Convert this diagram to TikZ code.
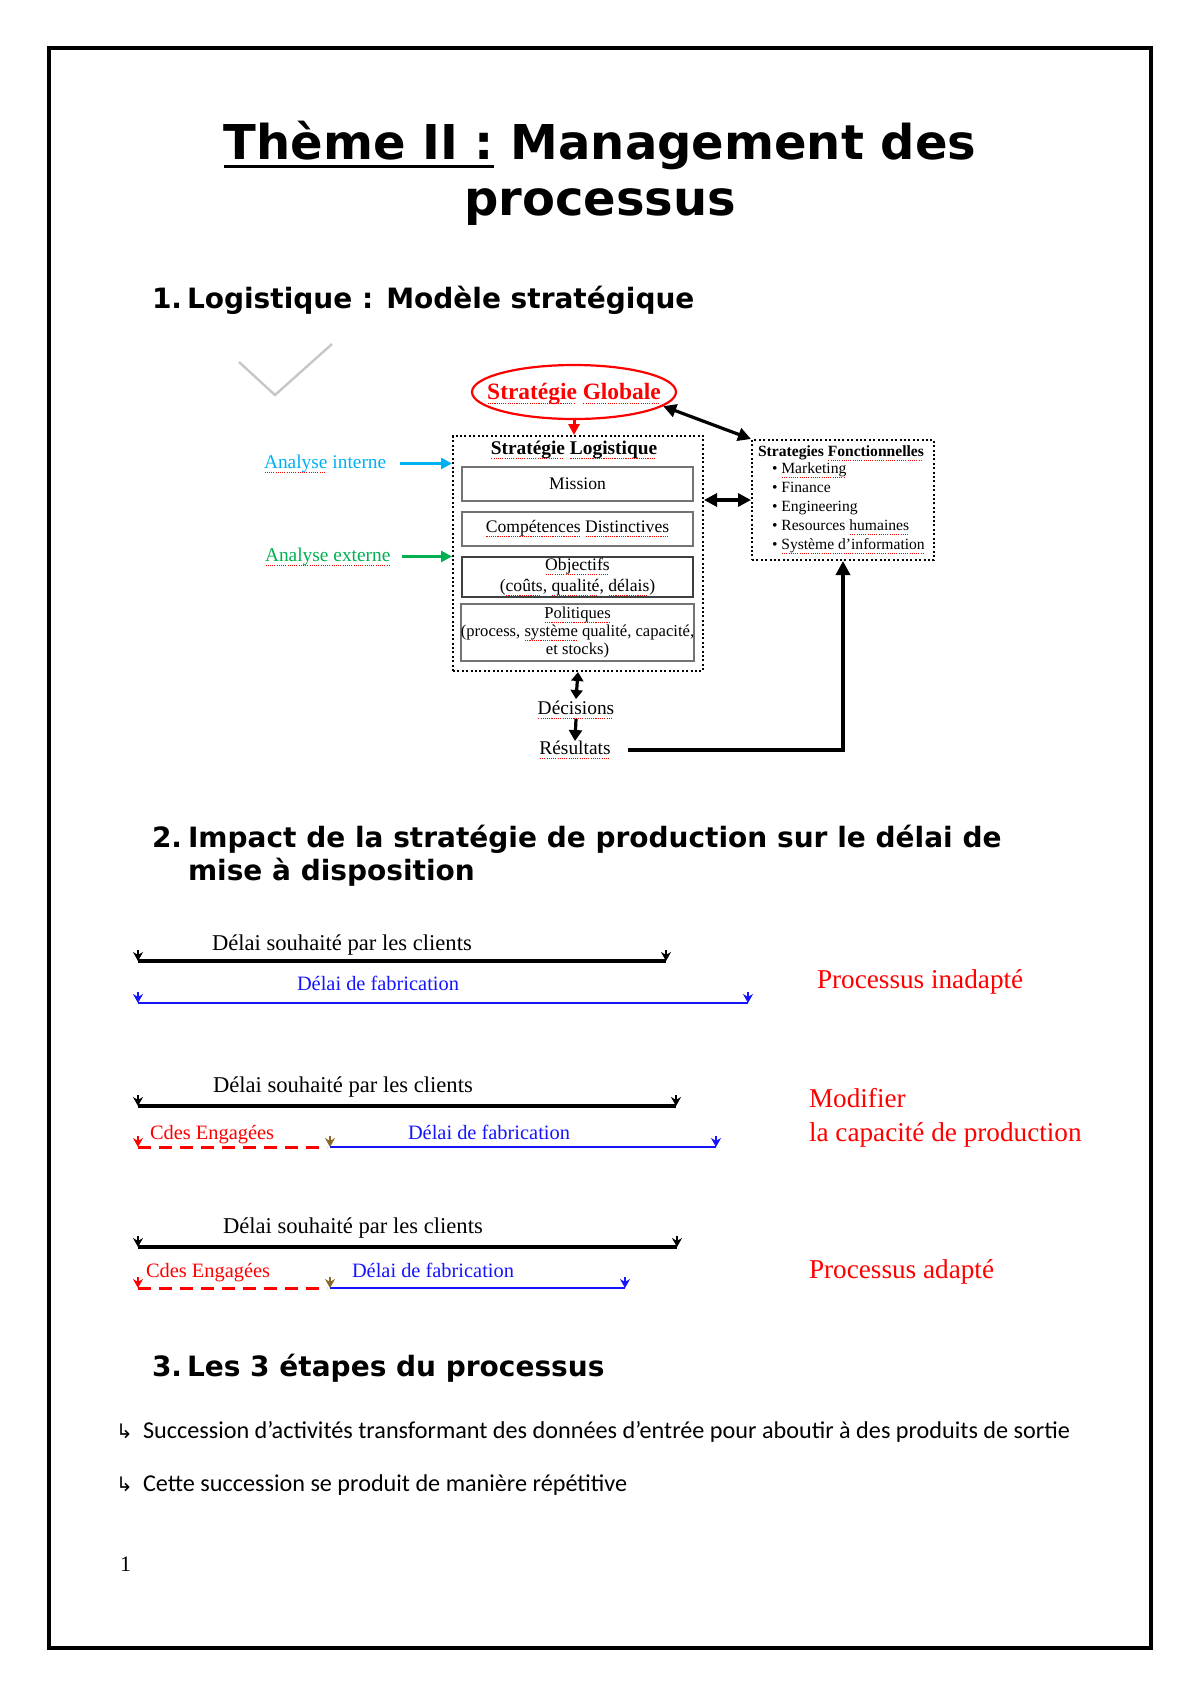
\documentclass[tikz,border=0pt]{standalone}
\usepackage{fontspec}
\setmainfont{Liberation Serif}
\newfontfamily\headfont{DejaVu Sans}
\newfontfamily\bodyfont{Carlito}
\newfontfamily\symfont{DejaVu Sans}
\usetikzlibrary{shapes.geometric,arrows.meta}
\definecolor{tred}{RGB}{255,0,0}
\definecolor{tblue}{RGB}{20,20,255}
\definecolor{tcyan}{RGB}{0,176,240}
\definecolor{tgreen}{RGB}{0,176,80}
\definecolor{tbrown}{RGB}{140,105,40}
\newcommand{\fsz}[2]{\fontsize{#1}{#2}\selectfont}
\newcommand{\sqw}[1]{{\setbox0\hbox{#1}\rlap{\raisebox{-2.2pt}{\textcolor{tred}{\hbox to \wd0{\leaders\hbox to 1.1pt{\hss\rule{0.55pt}{0.45pt}\hss}\hfill}}}}\box0}}
\begin{document}
\begin{tikzpicture}[x=0.5pt,y=-0.5pt,
  txt/.style={inner sep=0pt, outer sep=0pt},
  head/.style={txt, anchor=base west, font=\headfont\bfseries\fsz{14}{17}},
  body/.style={txt, anchor=base west, font=\bodyfont\fsz{12.1}{14}},
  dbl/.style={{Triangle[length=6.5pt,width=6.5pt]}-{Triangle[length=6.5pt,width=6.5pt]}, line width=1.6pt},
  sdbl/.style={{Triangle[length=4.5pt,width=6pt]}-{Triangle[length=4.5pt,width=6pt]}, line width=1.6pt},
  sarrow/.style={-{Triangle[length=5.5pt,width=5.5pt]}, line width=1.5pt},
  dotbox/.style={draw, line width=1pt, dash pattern=on 1pt off 1.2pt},
  ibox/.style={draw=black!55, line width=0.7pt, minimum width=115.5pt, inner sep=0pt, align=center, font=\fsz{8.8}{10.2}},
  tickmark/.style={line width=0.9pt, -{Stealth[length=4.5pt,width=5pt]}},
  tl/.style={txt, anchor=base west},
  blk/.style={line width=1.6pt},
  blu/.style={line width=1.4pt, tblue},
  reddash/.style={line width=1.5pt, tred, dash pattern=on 6.5pt off 4pt},
  lab/.style={txt, anchor=base west, text=tred, font=\fsz{13.6}{17}}
]
\useasboundingbox (0,0) rectangle (1200,1698);
\draw[line width=1.6pt] (49,48) rectangle (1151,1648);

% Title
\node[txt, anchor=base, font=\headfont\bfseries\fsz{24}{28}] (title1) at (600,159)
  {{\setbox0\hbox{Thème II :}\rlap{\rule[-4.5pt]{\wd0}{1.5pt}}\box0} Management des};
\node[txt, anchor=base, font=\headfont\bfseries\fsz{24}{28}] (title2) at (600,215) {processus};

% Section 1
\node[head] (n1) at (152,308) {1.};
\node[head] (h1) at (187,308) {Logistique : Modèle stratégique};

\draw[black!22, line width=1.2pt] (239,362) -- (275,395) -- (332,344);

\node[draw=tred, line width=1.1pt, ellipse, minimum width=102pt, minimum height=27pt, inner sep=0pt] (sg) at (574,392) {};
\node[txt, text=tred, font=\bfseries\fsz{11.7}{14}] (sgt) at (574,394) {\sqw{Stratégie} \sqw{Globale}};

\node[dotbox, minimum width=125pt, minimum height=117.5pt, inner sep=0pt] (sl) at (578,553.5) {};
\node[txt, font=\bfseries\fsz{9.7}{11}] (slt) at (574,450) {\sqw{Stratégie} \sqw{Logistique}};
\node[ibox, minimum height=17pt] (mis) at (577.5,484) {Mission};
\node[ibox, minimum height=17pt] (comp) at (577.5,529) {\sqw{Compétences} \sqw{Distinctives}};
\node[ibox, minimum height=20pt, draw=black!75, line width=0.9pt] (obj) at (577.5,577) {\sqw{Objectifs}\\(\sqw{coûts}, \sqw{qualité}, \sqw{délais})};
\node[ibox, minimum height=28.5pt, font=\fsz{8.3}{9.2}] (pol) at (577.5,632.5) {\sqw{Politiques}\\(process, \sqw{système} qualité, capacité,\\et stocks)};

\node[txt, text=tcyan, font=\fsz{9.7}{11}, anchor=base west] (ai) at (264,468) {\sqw{Analyse} interne};
\node[txt, text=tgreen, font=\fsz{9.7}{11}, anchor=base west] (ae) at (265,561) {\sqw{Analyse externe}};
\draw[sarrow, tcyan] ([xshift=7pt]ai.east) -- (ai.east -| sl.west);
\draw[sarrow, tgreen] ([xshift=5.5pt]ae.east) -- (ae.east -| sl.west);

\node[dotbox, minimum width=91pt, minimum height=60pt, inner sep=0pt] (sf) at (843,500) {};
\node[txt, font=\bfseries\fsz{7.8}{9}] (sft) at (841,453) {Strategies \sqw{Fonctionnelles}};
\node[txt, anchor=north west, align=left, font=\fsz{7.8}{9.4}] (sfl) at (772,463)
  {• \sqw{Marketing}\\• Finance\\• Engineering\\• Resources \sqw{humaines}\\• \sqw{Système d’information}};

\draw[sarrow, tred] (sg.south) -- (sg.south |- sl.north);
\draw[dbl] (sg.-9) -- (sf.north west);
\draw[dbl] (sl.east |- sf.west) -- (sf.west);

\node[txt, font=\fsz{9.7}{11}] (dec) at (576,710) {\sqw{Décisions}};
\node[txt, font=\fsz{9.7}{11}] (res) at (575,750) {\sqw{Résultats}};
\draw[sdbl] (sl.south) -- ([yshift=1pt]dec.north);
\draw[-{Triangle[length=5.5pt,width=6.5pt]}, line width=1.6pt] (dec.south) -- (res.north);
\draw[line width=2pt, -{Triangle[length=7pt,width=7pt]}] ([xshift=8.5pt]res.east) -- (res.east -| sf.south) -- (sf.south);

% Section 2
\node[head] (n2) at (152,847) {2.};
\node[head] (h2a) at (188,847) {Impact de la stratégie de production sur le délai de};
\node[head] (h2b) at (188,880) {mise à disposition};

% Row 1
\coordinate (a1) at (138,961); \coordinate (b1) at (666,961);
\coordinate (c1) at (138,1003); \coordinate (d1) at (748,1003);
\draw[blk] (a1) -- (b1);
\draw[tickmark] ([yshift=5.5pt]a1) -- (a1);
\draw[tickmark] ([yshift=5.5pt]b1) -- (b1);
\draw[blu] (c1) -- (d1);
\draw[tickmark, tblue] ([yshift=5.5pt]c1) -- (c1);
\draw[tickmark, tblue] ([yshift=5.5pt]d1) -- (d1);
\node[tl, font=\fsz{11.3}{13}] (t1) at (212,950) {Délai souhaité par les clients};
\node[tl, text=tblue, font=\fsz{10.2}{12}] (f1) at (297,990) {Délai de fabrication};
\node[lab] (l1) at (817,988) {Processus inadapté};

% Row 2
\coordinate (a2) at (138,1106); \coordinate (b2) at (676,1106);
\coordinate (c2) at (138,1147); \coordinate (m2) at (330,1147); \coordinate (d2) at (716,1147);
\draw[blk] (a2) -- (b2);
\draw[tickmark] ([yshift=5.5pt]a2) -- (a2);
\draw[tickmark] ([yshift=5.5pt]b2) -- (b2);
\draw[reddash] (c2) -- ([xshift=-1.5pt]m2);
\draw[blu] (m2) -- (d2);
\draw[tickmark, tred] ([yshift=5.5pt]c2) -- (c2);
\draw[tickmark, tbrown] ([yshift=5.5pt]m2) -- (m2);
\draw[tickmark, tblue] ([yshift=5.5pt]d2) -- (d2);
\node[tl, font=\fsz{11.3}{13}] (t2) at (213,1092) {Délai souhaité par les clients};
\node[tl, text=tred, font=\fsz{10.2}{12}] (e2) at (150,1139) {Cdes Engagées};
\node[tl, text=tblue, font=\fsz{10.2}{12}] (f2) at (408,1139) {Délai de fabrication};
\node[lab] (l2a) at (809,1107) {Modifier};
\node[lab] (l2b) at (809,1141) {la capacité de production};

% Row 3
\coordinate (a3) at (138,1247); \coordinate (b3) at (677,1247);
\coordinate (c3) at (138,1288); \coordinate (m3) at (330,1288); \coordinate (d3) at (625,1288);
\draw[blk] (a3) -- (b3);
\draw[tickmark] ([yshift=5.5pt]a3) -- (a3);
\draw[tickmark] ([yshift=5.5pt]b3) -- (b3);
\draw[reddash] (c3) -- ([xshift=-1.5pt]m3);
\draw[blu] (m3) -- (d3);
\draw[tickmark, tred] ([yshift=5.5pt]c3) -- (c3);
\draw[tickmark, tbrown] ([yshift=5.5pt]m3) -- (m3);
\draw[tickmark, tblue] ([yshift=5.5pt]d3) -- (d3);
\node[tl, font=\fsz{11.3}{13}] (t3) at (223,1233) {Délai souhaité par les clients};
\node[tl, text=tred, font=\fsz{10.2}{12}] (e3) at (146,1277) {Cdes Engagées};
\node[tl, text=tblue, font=\fsz{10.2}{12}] (f3) at (352,1277) {Délai de fabrication};
\node[lab] (l3) at (809,1278) {Processus adapté};

% Section 3
\node[head] (n3) at (152,1376) {3.};
\node[head] (h3) at (187,1376) {Les 3 étapes du processus};
\node[txt, anchor=base west, font=\symfont\fsz{10}{12}] (ar1) at (116,1438) {↳};
\node[body] (p1) at (143,1438) {Succession d’activités transformant des données d’entrée pour aboutir à des produits de sortie};
\node[txt, anchor=base west, font=\symfont\fsz{10}{12}] (ar2) at (116,1491) {↳};
\node[body] (p2) at (143,1491) {Cette succession se produit de manière répétitive};

\node[txt, anchor=base west, font=\fsz{11}{13}] (pg) at (120,1571) {1};
\end{tikzpicture}
\end{document}
